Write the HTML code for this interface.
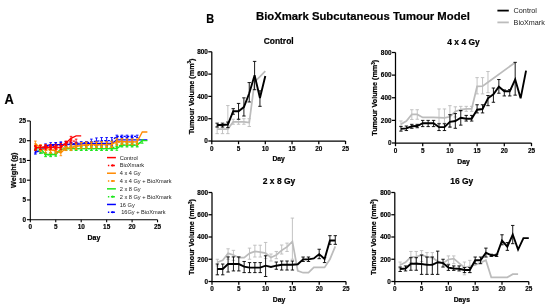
<!DOCTYPE html>
<html><head><meta charset="utf-8"><title>BioXmark Subcutaneous Tumour Model</title>
<style>html,body{margin:0;padding:0;background:#fff;width:550px;height:307px;overflow:hidden}svg{display:block}</style>
</head><body>
<svg width="550" height="307" viewBox="0 0 550 307">
<style>text{font-family:'Liberation Sans', Arial, sans-serif;fill:#000}.tk{font-weight:bold;stroke:#000;stroke-width:0.15px}.b{font-weight:bold;stroke:#000;stroke-width:0.2px}</style>
<rect width="550" height="307" fill="#fff"/>
<text transform="translate(4.5 103.6) scale(0.9 1)" class="b" font-size="14.3">A</text>
<text transform="translate(206.2 23) scale(0.85 1)" class="b" font-size="12.8">B</text>
<text x="256" y="19.7" class="b" font-size="10.9" textLength="214" lengthAdjust="spacingAndGlyphs">BioXmark Subcutaneous Tumour Model</text>
<line x1="497.4" y1="10.6" x2="508.8" y2="10.6" stroke="#000" stroke-width="1.8"/>
<line x1="497.4" y1="22.4" x2="508.8" y2="22.4" stroke="#bcbcbc" stroke-width="1.8"/>
<text x="513.6" y="12.9" font-size="7.25" style="fill:#222">Control</text>
<text x="513.6" y="24.7" font-size="7.2" style="fill:#222">BioXmark</text>
<path d="M211.8 51.8V141H345.5" fill="none" stroke="#000" stroke-width="1.25"/>
<line x1="211.8" y1="141" x2="211.8" y2="144.2" stroke="#000" stroke-width="1.25"/>
<text x="211.8" y="150.7" text-anchor="middle" class="tk" font-size="6.4">0</text>
<line x1="238.55" y1="141" x2="238.55" y2="144.2" stroke="#000" stroke-width="1.25"/>
<text x="238.55" y="150.7" text-anchor="middle" class="tk" font-size="6.4">5</text>
<line x1="265.3" y1="141" x2="265.3" y2="144.2" stroke="#000" stroke-width="1.25"/>
<text x="265.3" y="150.7" text-anchor="middle" class="tk" font-size="6.4">10</text>
<line x1="292.05" y1="141" x2="292.05" y2="144.2" stroke="#000" stroke-width="1.25"/>
<text x="292.05" y="150.7" text-anchor="middle" class="tk" font-size="6.4">15</text>
<line x1="318.8" y1="141" x2="318.8" y2="144.2" stroke="#000" stroke-width="1.25"/>
<text x="318.8" y="150.7" text-anchor="middle" class="tk" font-size="6.4">20</text>
<line x1="345.55" y1="141" x2="345.55" y2="144.2" stroke="#000" stroke-width="1.25"/>
<text x="345.55" y="150.7" text-anchor="middle" class="tk" font-size="6.4">25</text>
<line x1="208.3" y1="141" x2="211.8" y2="141" stroke="#000" stroke-width="1.25"/>
<text x="207.8" y="143.3" text-anchor="end" class="tk" font-size="6.4">0</text>
<line x1="208.3" y1="118.7" x2="211.8" y2="118.7" stroke="#000" stroke-width="1.25"/>
<text x="207.8" y="121" text-anchor="end" class="tk" font-size="6.4">200</text>
<line x1="208.3" y1="96.4" x2="211.8" y2="96.4" stroke="#000" stroke-width="1.25"/>
<text x="207.8" y="98.7" text-anchor="end" class="tk" font-size="6.4">400</text>
<line x1="208.3" y1="74.1" x2="211.8" y2="74.1" stroke="#000" stroke-width="1.25"/>
<text x="207.8" y="76.4" text-anchor="end" class="tk" font-size="6.4">600</text>
<line x1="208.3" y1="51.8" x2="211.8" y2="51.8" stroke="#000" stroke-width="1.25"/>
<text x="207.8" y="54.1" text-anchor="end" class="tk" font-size="6.4">800</text>
<text x="278.65" y="44" text-anchor="middle" class="b" font-size="8.45">Control</text>
<text x="278.65" y="161.3" text-anchor="middle" class="b" font-size="6.8">Day</text>
<text transform="translate(193.6 96.4) rotate(-90)" text-anchor="middle" class="b" font-size="7.2">Tumour Volume (mm<tspan dy="-2.2" font-size="4.6">3</tspan><tspan dy="2.2">)</tspan></text>
<path d="M395.5 52.5V143H531.5" fill="none" stroke="#000" stroke-width="1.25"/>
<line x1="395.5" y1="143" x2="395.5" y2="146.2" stroke="#000" stroke-width="1.25"/>
<text x="395.5" y="152.7" text-anchor="middle" class="tk" font-size="6.4">0</text>
<line x1="422.7" y1="143" x2="422.7" y2="146.2" stroke="#000" stroke-width="1.25"/>
<text x="422.7" y="152.7" text-anchor="middle" class="tk" font-size="6.4">5</text>
<line x1="449.9" y1="143" x2="449.9" y2="146.2" stroke="#000" stroke-width="1.25"/>
<text x="449.9" y="152.7" text-anchor="middle" class="tk" font-size="6.4">10</text>
<line x1="477.1" y1="143" x2="477.1" y2="146.2" stroke="#000" stroke-width="1.25"/>
<text x="477.1" y="152.7" text-anchor="middle" class="tk" font-size="6.4">15</text>
<line x1="504.3" y1="143" x2="504.3" y2="146.2" stroke="#000" stroke-width="1.25"/>
<text x="504.3" y="152.7" text-anchor="middle" class="tk" font-size="6.4">20</text>
<line x1="531.5" y1="143" x2="531.5" y2="146.2" stroke="#000" stroke-width="1.25"/>
<text x="531.5" y="152.7" text-anchor="middle" class="tk" font-size="6.4">25</text>
<line x1="392" y1="143" x2="395.5" y2="143" stroke="#000" stroke-width="1.25"/>
<text x="391.5" y="145.3" text-anchor="end" class="tk" font-size="6.4">0</text>
<line x1="392" y1="120.38" x2="395.5" y2="120.38" stroke="#000" stroke-width="1.25"/>
<text x="391.5" y="122.67" text-anchor="end" class="tk" font-size="6.4">200</text>
<line x1="392" y1="97.75" x2="395.5" y2="97.75" stroke="#000" stroke-width="1.25"/>
<text x="391.5" y="100.05" text-anchor="end" class="tk" font-size="6.4">400</text>
<line x1="392" y1="75.12" x2="395.5" y2="75.12" stroke="#000" stroke-width="1.25"/>
<text x="391.5" y="77.42" text-anchor="end" class="tk" font-size="6.4">600</text>
<line x1="392" y1="52.5" x2="395.5" y2="52.5" stroke="#000" stroke-width="1.25"/>
<text x="391.5" y="54.8" text-anchor="end" class="tk" font-size="6.4">800</text>
<text x="463.5" y="44.7" text-anchor="middle" class="b" font-size="8.45">4 x 4 Gy</text>
<text x="463.5" y="164" text-anchor="middle" class="b" font-size="6.8">Day</text>
<text transform="translate(376.7 97.75) rotate(-90)" text-anchor="middle" class="b" font-size="7.2">Tumour Volume (mm<tspan dy="-2.2" font-size="4.6">3</tspan><tspan dy="2.2">)</tspan></text>
<path d="M212 192.5V281.5H346" fill="none" stroke="#000" stroke-width="1.25"/>
<line x1="212" y1="281.5" x2="212" y2="284.7" stroke="#000" stroke-width="1.25"/>
<text x="212" y="291.2" text-anchor="middle" class="tk" font-size="6.4">0</text>
<line x1="238.8" y1="281.5" x2="238.8" y2="284.7" stroke="#000" stroke-width="1.25"/>
<text x="238.8" y="291.2" text-anchor="middle" class="tk" font-size="6.4">5</text>
<line x1="265.6" y1="281.5" x2="265.6" y2="284.7" stroke="#000" stroke-width="1.25"/>
<text x="265.6" y="291.2" text-anchor="middle" class="tk" font-size="6.4">10</text>
<line x1="292.4" y1="281.5" x2="292.4" y2="284.7" stroke="#000" stroke-width="1.25"/>
<text x="292.4" y="291.2" text-anchor="middle" class="tk" font-size="6.4">15</text>
<line x1="319.2" y1="281.5" x2="319.2" y2="284.7" stroke="#000" stroke-width="1.25"/>
<text x="319.2" y="291.2" text-anchor="middle" class="tk" font-size="6.4">20</text>
<line x1="346" y1="281.5" x2="346" y2="284.7" stroke="#000" stroke-width="1.25"/>
<text x="346" y="291.2" text-anchor="middle" class="tk" font-size="6.4">25</text>
<line x1="208.5" y1="281.5" x2="212" y2="281.5" stroke="#000" stroke-width="1.25"/>
<text x="208" y="283.8" text-anchor="end" class="tk" font-size="6.4">0</text>
<line x1="208.5" y1="259.25" x2="212" y2="259.25" stroke="#000" stroke-width="1.25"/>
<text x="208" y="261.55" text-anchor="end" class="tk" font-size="6.4">200</text>
<line x1="208.5" y1="237" x2="212" y2="237" stroke="#000" stroke-width="1.25"/>
<text x="208" y="239.3" text-anchor="end" class="tk" font-size="6.4">400</text>
<line x1="208.5" y1="214.75" x2="212" y2="214.75" stroke="#000" stroke-width="1.25"/>
<text x="208" y="217.05" text-anchor="end" class="tk" font-size="6.4">600</text>
<line x1="208.5" y1="192.5" x2="212" y2="192.5" stroke="#000" stroke-width="1.25"/>
<text x="208" y="194.8" text-anchor="end" class="tk" font-size="6.4">800</text>
<text x="279" y="184.2" text-anchor="middle" class="b" font-size="8.45">2 x 8 Gy</text>
<text x="279" y="302" text-anchor="middle" class="b" font-size="6.8">Day</text>
<text transform="translate(193.8 237) rotate(-90)" text-anchor="middle" class="b" font-size="7.2">Tumour Volume (mm<tspan dy="-2.2" font-size="4.6">3</tspan><tspan dy="2.2">)</tspan></text>
<path d="M394.8 192.5V281.5H528.8" fill="none" stroke="#000" stroke-width="1.25"/>
<line x1="394.8" y1="281.5" x2="394.8" y2="284.7" stroke="#000" stroke-width="1.25"/>
<text x="394.8" y="291.2" text-anchor="middle" class="tk" font-size="6.4">0</text>
<line x1="421.6" y1="281.5" x2="421.6" y2="284.7" stroke="#000" stroke-width="1.25"/>
<text x="421.6" y="291.2" text-anchor="middle" class="tk" font-size="6.4">5</text>
<line x1="448.4" y1="281.5" x2="448.4" y2="284.7" stroke="#000" stroke-width="1.25"/>
<text x="448.4" y="291.2" text-anchor="middle" class="tk" font-size="6.4">10</text>
<line x1="475.2" y1="281.5" x2="475.2" y2="284.7" stroke="#000" stroke-width="1.25"/>
<text x="475.2" y="291.2" text-anchor="middle" class="tk" font-size="6.4">15</text>
<line x1="502" y1="281.5" x2="502" y2="284.7" stroke="#000" stroke-width="1.25"/>
<text x="502" y="291.2" text-anchor="middle" class="tk" font-size="6.4">20</text>
<line x1="528.8" y1="281.5" x2="528.8" y2="284.7" stroke="#000" stroke-width="1.25"/>
<text x="528.8" y="291.2" text-anchor="middle" class="tk" font-size="6.4">25</text>
<line x1="391.3" y1="281.5" x2="394.8" y2="281.5" stroke="#000" stroke-width="1.25"/>
<text x="390.8" y="283.8" text-anchor="end" class="tk" font-size="6.4">0</text>
<line x1="391.3" y1="259.25" x2="394.8" y2="259.25" stroke="#000" stroke-width="1.25"/>
<text x="390.8" y="261.55" text-anchor="end" class="tk" font-size="6.4">200</text>
<line x1="391.3" y1="237" x2="394.8" y2="237" stroke="#000" stroke-width="1.25"/>
<text x="390.8" y="239.3" text-anchor="end" class="tk" font-size="6.4">400</text>
<line x1="391.3" y1="214.75" x2="394.8" y2="214.75" stroke="#000" stroke-width="1.25"/>
<text x="390.8" y="217.05" text-anchor="end" class="tk" font-size="6.4">600</text>
<line x1="391.3" y1="192.5" x2="394.8" y2="192.5" stroke="#000" stroke-width="1.25"/>
<text x="390.8" y="194.8" text-anchor="end" class="tk" font-size="6.4">800</text>
<text x="461.8" y="184.4" text-anchor="middle" class="b" font-size="8.45">16 Gy</text>
<text x="461.8" y="302" text-anchor="middle" class="b" font-size="6.8">Days</text>
<text transform="translate(376.3 237) rotate(-90)" text-anchor="middle" class="b" font-size="7.2">Tumour Volume (mm<tspan dy="-2.2" font-size="4.6">3</tspan><tspan dy="2.2">)</tspan></text>
<path d="M217.15 133.64V126.62M215.45 126.62H218.85M215.45 133.64H218.85" stroke="#bcbcbc" stroke-width="0.9" fill="none"/>
<path d="M222.5 133.64V126.62M220.8 126.62H224.2M220.8 133.64H224.2" stroke="#bcbcbc" stroke-width="0.9" fill="none"/>
<path d="M227.85 133.64V105.54M226.15 105.54H229.55M226.15 133.64H229.55" stroke="#bcbcbc" stroke-width="0.9" fill="none"/>
<path d="M233.2 124.28V119.26M231.5 119.26H234.9M231.5 124.28H234.9" stroke="#bcbcbc" stroke-width="0.9" fill="none"/>
<path d="M238.55 124.28V119.26M236.85 119.26H240.25M236.85 124.28H240.25" stroke="#bcbcbc" stroke-width="0.9" fill="none"/>
<path d="M243.9 124.28V118.7M242.2 118.7H245.6M242.2 124.28H245.6" stroke="#bcbcbc" stroke-width="0.9" fill="none"/>
<path d="M249.25 126.5V118.7M247.55 118.7H250.95M247.55 126.5H250.95" stroke="#bcbcbc" stroke-width="0.9" fill="none"/>
<path d="M217.15 129.07 L222.5 129.07 L227.85 129.07 L233.2 121.82 L238.55 121.82 L243.9 121.82 L249.25 122.6 L254.6 81.91 L259.95 76.55 L265.3 71.2" stroke="#bcbcbc" stroke-width="1.75" fill="none" stroke-linejoin="miter" stroke-miterlimit="3"/>
<path d="M217.15 127.06V123.16M215.45 123.16H218.85M215.45 127.06H218.85" stroke="#000" stroke-width="0.9" fill="none"/>
<path d="M222.5 127.06V123.16M220.8 123.16H224.2M220.8 127.06H224.2" stroke="#000" stroke-width="0.9" fill="none"/>
<path d="M227.85 127.62V122.05M226.15 122.05H229.55M226.15 127.62H229.55" stroke="#000" stroke-width="0.9" fill="none"/>
<path d="M233.2 114.24V108.66M231.5 108.66H234.9M231.5 114.24H234.9" stroke="#000" stroke-width="0.9" fill="none"/>
<path d="M238.55 119.26V103.42M236.85 103.42H240.25M236.85 119.26H240.25" stroke="#000" stroke-width="0.9" fill="none"/>
<path d="M243.9 116.02V97.85M242.2 97.85H245.6M242.2 116.02H245.6" stroke="#000" stroke-width="0.9" fill="none"/>
<path d="M249.25 101.97V82.57M247.55 82.57H250.95M247.55 101.97H250.95" stroke="#000" stroke-width="0.9" fill="none"/>
<path d="M254.6 89.71V61.39M252.9 61.39H256.3M252.9 89.71H256.3" stroke="#000" stroke-width="0.9" fill="none"/>
<path d="M259.95 106.32V90.82M258.25 90.82H261.65M258.25 106.32H261.65" stroke="#000" stroke-width="0.9" fill="none"/>
<path d="M217.15 125.06 L222.5 125.06 L227.85 124.5 L233.2 111.23 L238.55 111.23 L243.9 107.1 L249.25 93.28 L254.6 75.22 L259.95 98.07 L265.3 76" stroke="#000" stroke-width="1.9" fill="none" stroke-linejoin="miter" stroke-miterlimit="3"/>
<path d="M400.94 126.03V120.94M399.24 120.94H402.64M399.24 126.03H402.64" stroke="#bcbcbc" stroke-width="0.9" fill="none"/>
<path d="M411.82 119.47V109.74M410.12 109.74H413.52M410.12 119.47H413.52" stroke="#bcbcbc" stroke-width="0.9" fill="none"/>
<path d="M417.26 119.24V109.74M415.56 109.74H418.96M415.56 119.24H418.96" stroke="#bcbcbc" stroke-width="0.9" fill="none"/>
<path d="M439.02 123.2V108.95M437.32 108.95H440.72M437.32 123.2H440.72" stroke="#bcbcbc" stroke-width="0.9" fill="none"/>
<path d="M444.46 123.2V108.95M442.76 108.95H446.16M442.76 123.2H446.16" stroke="#bcbcbc" stroke-width="0.9" fill="none"/>
<path d="M449.9 126.6V105.67M448.2 105.67H451.6M448.2 126.6H451.6" stroke="#bcbcbc" stroke-width="0.9" fill="none"/>
<path d="M455.34 116.98V106.8M453.64 106.8H457.04M453.64 116.98H457.04" stroke="#bcbcbc" stroke-width="0.9" fill="none"/>
<path d="M460.78 111.33V106.35M459.08 106.35H462.48M459.08 111.33H462.48" stroke="#bcbcbc" stroke-width="0.9" fill="none"/>
<path d="M466.22 111.33V106.35M464.52 106.35H467.92M464.52 111.33H467.92" stroke="#bcbcbc" stroke-width="0.9" fill="none"/>
<path d="M471.66 111.33V106.35M469.96 106.35H473.36M469.96 111.33H473.36" stroke="#bcbcbc" stroke-width="0.9" fill="none"/>
<path d="M477.1 93.9V77.61M475.4 77.61H478.8M475.4 93.9H478.8" stroke="#bcbcbc" stroke-width="0.9" fill="none"/>
<path d="M482.54 93.9V77.61M480.84 77.61H484.24M480.84 93.9H484.24" stroke="#bcbcbc" stroke-width="0.9" fill="none"/>
<path d="M487.98 92.66V71.5M486.28 71.5H489.68M486.28 92.66H489.68" stroke="#bcbcbc" stroke-width="0.9" fill="none"/>
<path d="M400.94 124.33 L406.38 121.05 L411.82 114.49 L417.26 114.49 L422.7 117.43 L428.14 117.43 L433.58 117.43 L439.02 117.66 L444.46 117.89 L449.9 116.75 L455.34 111.55 L460.78 109.52 L466.22 108.84 L471.66 108.84 L477.1 86.44 L482.54 86.1 L487.98 82.25 L515.18 62.45" stroke="#bcbcbc" stroke-width="1.75" fill="none" stroke-linejoin="miter" stroke-miterlimit="3"/>
<path d="M400.94 131.12V126.6M399.24 126.6H402.64M399.24 131.12H402.64" stroke="#000" stroke-width="0.9" fill="none"/>
<path d="M406.38 130.56V126.03M404.68 126.03H408.08M404.68 130.56H408.08" stroke="#000" stroke-width="0.9" fill="none"/>
<path d="M411.82 128.29V124.33M410.12 124.33H413.52M410.12 128.29H413.52" stroke="#000" stroke-width="0.9" fill="none"/>
<path d="M417.26 127.73V124.33M415.56 124.33H418.96M415.56 127.73H418.96" stroke="#000" stroke-width="0.9" fill="none"/>
<path d="M422.7 126.6V120.38M421 120.38H424.4M421 126.6H424.4" stroke="#000" stroke-width="0.9" fill="none"/>
<path d="M428.14 126.6V120.38M426.44 120.38H429.84M426.44 126.6H429.84" stroke="#000" stroke-width="0.9" fill="none"/>
<path d="M433.58 126.6V120.38M431.88 120.38H435.28M431.88 126.6H435.28" stroke="#000" stroke-width="0.9" fill="none"/>
<path d="M439.02 130.56V123.77M437.32 123.77H440.72M437.32 130.56H440.72" stroke="#000" stroke-width="0.9" fill="none"/>
<path d="M444.46 130.56V123.77M442.76 123.77H446.16M442.76 130.56H446.16" stroke="#000" stroke-width="0.9" fill="none"/>
<path d="M449.9 127.16V114.72M448.2 114.72H451.6M448.2 127.16H451.6" stroke="#000" stroke-width="0.9" fill="none"/>
<path d="M455.34 128.29V113.59M453.64 113.59H457.04M453.64 128.29H457.04" stroke="#000" stroke-width="0.9" fill="none"/>
<path d="M460.78 125.13V110.53M459.08 110.53H462.48M459.08 125.13H462.48" stroke="#000" stroke-width="0.9" fill="none"/>
<path d="M466.22 121.05V115.4M464.52 115.4H467.92M464.52 121.05H467.92" stroke="#000" stroke-width="0.9" fill="none"/>
<path d="M471.66 121.05V115.4M469.96 115.4H473.36M469.96 121.05H473.36" stroke="#000" stroke-width="0.9" fill="none"/>
<path d="M477.1 112.91V104.76M475.4 104.76H478.8M475.4 112.91H478.8" stroke="#000" stroke-width="0.9" fill="none"/>
<path d="M482.54 112.91V104.76M480.84 104.76H484.24M480.84 112.91H484.24" stroke="#000" stroke-width="0.9" fill="none"/>
<path d="M487.98 105.67V95.49M486.28 95.49H489.68M486.28 105.67H489.68" stroke="#000" stroke-width="0.9" fill="none"/>
<path d="M493.42 102.28V88.02M491.72 88.02H495.12M491.72 102.28H495.12" stroke="#000" stroke-width="0.9" fill="none"/>
<path d="M498.86 93.22V79.54M497.16 79.54H500.56M497.16 93.22H500.56" stroke="#000" stroke-width="0.9" fill="none"/>
<path d="M504.3 95.94V89.94M502.6 89.94H506M502.6 95.94H506" stroke="#000" stroke-width="0.9" fill="none"/>
<path d="M509.74 95.94V89.6M508.04 89.6H511.44M508.04 95.94H511.44" stroke="#000" stroke-width="0.9" fill="none"/>
<path d="M515.18 95.15V62.34M513.48 62.34H516.88M513.48 95.15H516.88" stroke="#000" stroke-width="0.9" fill="none"/>
<path d="M400.94 128.86 L406.38 128.41 L411.82 126.26 L417.26 126.03 L422.7 123.2 L428.14 123.2 L433.58 123.2 L439.02 127.16 L444.46 127.16 L449.9 121.85 L455.34 121.05 L460.78 117.77 L466.22 118.79 L471.66 118.79 L477.1 109.74 L482.54 109.06 L487.98 98.32 L493.42 94.36 L498.86 86.66 L504.3 91.3 L509.74 91.3 L515.18 79.54 L520.62 98.32 L526.06 70.6" stroke="#000" stroke-width="1.9" fill="none" stroke-linejoin="miter" stroke-miterlimit="3"/>
<path d="M217.36 265.93V259.25M215.66 259.25H219.06M215.66 265.93H219.06" stroke="#bcbcbc" stroke-width="0.9" fill="none"/>
<path d="M228.08 259.25V248.79M226.38 248.79H229.78M226.38 259.25H229.78" stroke="#bcbcbc" stroke-width="0.9" fill="none"/>
<path d="M233.44 260.36V250.35M231.74 250.35H235.14M231.74 260.36H235.14" stroke="#bcbcbc" stroke-width="0.9" fill="none"/>
<path d="M249.52 259.25V248.12M247.82 248.12H251.22M247.82 259.25H251.22" stroke="#bcbcbc" stroke-width="0.9" fill="none"/>
<path d="M254.88 257.02V245.23M253.18 245.23H256.58M253.18 257.02H256.58" stroke="#bcbcbc" stroke-width="0.9" fill="none"/>
<path d="M260.24 257.02V245.23M258.54 245.23H261.94M258.54 257.02H261.94" stroke="#bcbcbc" stroke-width="0.9" fill="none"/>
<path d="M265.6 258.47V242.45M263.9 242.45H267.3M263.9 258.47H267.3" stroke="#bcbcbc" stroke-width="0.9" fill="none"/>
<path d="M270.96 261.03V254.02M269.26 254.02H272.66M269.26 261.03H272.66" stroke="#bcbcbc" stroke-width="0.9" fill="none"/>
<path d="M276.32 258.69V251.46M274.62 251.46H278.02M274.62 258.69H278.02" stroke="#bcbcbc" stroke-width="0.9" fill="none"/>
<path d="M281.68 254.02V245.01M279.98 245.01H283.38M279.98 254.02H283.38" stroke="#bcbcbc" stroke-width="0.9" fill="none"/>
<path d="M287.04 251.46V243.12M285.34 243.12H288.74M285.34 251.46H288.74" stroke="#bcbcbc" stroke-width="0.9" fill="none"/>
<path d="M292.4 259.25V218.09M290.7 218.09H294.1M290.7 259.25H294.1" stroke="#bcbcbc" stroke-width="0.9" fill="none"/>
<path d="M217.36 262.25 L222.72 260.36 L228.08 253.35 L233.44 255.02 L238.8 257.69 L244.16 257.69 L249.52 253.35 L254.88 251.46 L260.24 252.02 L265.6 253.13 L270.96 257.58 L276.32 255.02 L281.68 250.35 L287.04 246.9 L292.4 241.45 L297.76 270.82 L303.12 272.71 L308.48 272.71 L313.84 267.48 L319.2 267.48 L324.56 267.48 L329.92 259.25 L335.28 246.34" stroke="#bcbcbc" stroke-width="1.75" fill="none" stroke-linejoin="miter" stroke-miterlimit="3"/>
<path d="M217.36 274.82V264.03M215.66 264.03H219.06M215.66 274.82H219.06" stroke="#000" stroke-width="0.9" fill="none"/>
<path d="M222.72 274.82V264.03M221.02 264.03H224.42M221.02 274.82H224.42" stroke="#000" stroke-width="0.9" fill="none"/>
<path d="M228.08 272.04V256.91M226.38 256.91H229.78M226.38 272.04H229.78" stroke="#000" stroke-width="0.9" fill="none"/>
<path d="M233.44 270.93V256.91M231.74 256.91H235.14M231.74 270.93H235.14" stroke="#000" stroke-width="0.9" fill="none"/>
<path d="M238.8 270.93V256.91M237.1 256.91H240.5M237.1 270.93H240.5" stroke="#000" stroke-width="0.9" fill="none"/>
<path d="M244.16 272.6V261.48M242.46 261.48H245.86M242.46 272.6H245.86" stroke="#000" stroke-width="0.9" fill="none"/>
<path d="M249.52 272.6V262.59M247.82 262.59H251.22M247.82 272.6H251.22" stroke="#000" stroke-width="0.9" fill="none"/>
<path d="M254.88 272.6V262.59M253.18 262.59H256.58M253.18 272.6H256.58" stroke="#000" stroke-width="0.9" fill="none"/>
<path d="M260.24 272.6V262.59M258.54 262.59H261.94M258.54 272.6H261.94" stroke="#000" stroke-width="0.9" fill="none"/>
<path d="M265.6 276.49V255.8M263.9 255.8H267.3M263.9 276.49H267.3" stroke="#000" stroke-width="0.9" fill="none"/>
<path d="M276.32 269.26V262.03M274.62 262.03H278.02M274.62 269.26H278.02" stroke="#000" stroke-width="0.9" fill="none"/>
<path d="M281.68 270.04V261.03M279.98 261.03H283.38M279.98 270.04H283.38" stroke="#000" stroke-width="0.9" fill="none"/>
<path d="M287.04 270.04V261.03M285.34 261.03H288.74M285.34 270.04H288.74" stroke="#000" stroke-width="0.9" fill="none"/>
<path d="M292.4 270.04V261.03M290.7 261.03H294.1M290.7 270.04H294.1" stroke="#000" stroke-width="0.9" fill="none"/>
<path d="M303.12 261.48V257.02M301.42 257.02H304.82M301.42 261.48H304.82" stroke="#000" stroke-width="0.9" fill="none"/>
<path d="M308.48 261.48V257.02M306.78 257.02H310.18M306.78 261.48H310.18" stroke="#000" stroke-width="0.9" fill="none"/>
<path d="M319.2 258.69V249.24M317.5 249.24H320.9M317.5 258.69H320.9" stroke="#000" stroke-width="0.9" fill="none"/>
<path d="M324.56 262.59V257.58M322.86 257.58H326.26M322.86 262.59H326.26" stroke="#000" stroke-width="0.9" fill="none"/>
<path d="M329.92 244.34V235.66M328.22 235.66H331.62M328.22 244.34H331.62" stroke="#000" stroke-width="0.9" fill="none"/>
<path d="M335.28 244.34V235.66M333.58 235.66H336.98M333.58 244.34H336.98" stroke="#000" stroke-width="0.9" fill="none"/>
<path d="M217.36 269.04 L222.72 269.04 L228.08 264.03 L233.44 264.03 L238.8 264.03 L244.16 266.7 L249.52 267.59 L254.88 267.59 L260.24 267.59 L265.6 265.7 L270.96 267.04 L276.32 265.7 L281.68 264.81 L287.04 264.81 L292.4 264.81 L297.76 264.26 L303.12 259.36 L308.48 259.36 L313.84 258.47 L319.2 254.13 L324.56 259.03 L329.92 240.56 L335.28 240.56" stroke="#000" stroke-width="1.9" fill="none" stroke-linejoin="miter" stroke-miterlimit="3"/>
<path d="M400.16 268.15V262.03M398.46 262.03H401.86M398.46 268.15H401.86" stroke="#bcbcbc" stroke-width="0.9" fill="none"/>
<path d="M410.88 262.59V251.46M409.18 251.46H412.58M409.18 262.59H412.58" stroke="#bcbcbc" stroke-width="0.9" fill="none"/>
<path d="M416.24 262.59V251.46M414.54 251.46H417.94M414.54 262.59H417.94" stroke="#bcbcbc" stroke-width="0.9" fill="none"/>
<path d="M421.6 261.48V250.57M419.9 250.57H423.3M419.9 261.48H423.3" stroke="#bcbcbc" stroke-width="0.9" fill="none"/>
<path d="M426.96 263.7V252.57M425.26 252.57H428.66M425.26 263.7H428.66" stroke="#bcbcbc" stroke-width="0.9" fill="none"/>
<path d="M432.32 263.7V252.57M430.62 252.57H434.02M430.62 263.7H434.02" stroke="#bcbcbc" stroke-width="0.9" fill="none"/>
<path d="M448.4 263.7V255.91M446.7 255.91H450.1M446.7 263.7H450.1" stroke="#bcbcbc" stroke-width="0.9" fill="none"/>
<path d="M453.76 263.7V255.91M452.06 255.91H455.46M452.06 263.7H455.46" stroke="#bcbcbc" stroke-width="0.9" fill="none"/>
<path d="M464.48 274.82V262.03M462.78 262.03H466.18M462.78 274.82H466.18" stroke="#bcbcbc" stroke-width="0.9" fill="none"/>
<path d="M469.84 272.6V260.36M468.14 260.36H471.54M468.14 272.6H471.54" stroke="#bcbcbc" stroke-width="0.9" fill="none"/>
<path d="M400.16 264.92 L405.52 262.25 L410.88 256.91 L416.24 256.91 L421.6 255.02 L426.96 256.91 L432.32 257.69 L437.68 261.25 L443.04 263.14 L448.4 259.47 L453.76 258.58 L459.12 263.14 L464.48 267.48 L469.84 266.26 L475.2 265.04 L480.56 262.59 L485.92 260.25 L491.28 277.27 L496.64 277.27 L502 277.27 L507.36 277.27 L512.72 274.16 L518.08 274.16" stroke="#bcbcbc" stroke-width="1.75" fill="none" stroke-linejoin="miter" stroke-miterlimit="3"/>
<path d="M400.16 271.49V267.04M398.46 267.04H401.86M398.46 271.49H401.86" stroke="#000" stroke-width="0.9" fill="none"/>
<path d="M405.52 270.93V265.93M403.82 265.93H407.22M403.82 270.93H407.22" stroke="#000" stroke-width="0.9" fill="none"/>
<path d="M410.88 270.26V257.69M409.18 257.69H412.58M409.18 270.26H412.58" stroke="#000" stroke-width="0.9" fill="none"/>
<path d="M416.24 270.26V257.69M414.54 257.69H417.94M414.54 270.26H417.94" stroke="#000" stroke-width="0.9" fill="none"/>
<path d="M421.6 274.38V255.02M419.9 255.02H423.3M419.9 274.38H423.3" stroke="#000" stroke-width="0.9" fill="none"/>
<path d="M426.96 274.38V257.02M425.26 257.02H428.66M425.26 274.38H428.66" stroke="#000" stroke-width="0.9" fill="none"/>
<path d="M432.32 274.38V257.02M430.62 257.02H434.02M430.62 274.38H434.02" stroke="#000" stroke-width="0.9" fill="none"/>
<path d="M437.68 274.38V251.13M435.98 251.13H439.38M435.98 274.38H439.38" stroke="#000" stroke-width="0.9" fill="none"/>
<path d="M443.04 267.04V259.25M441.34 259.25H444.74M441.34 267.04H444.74" stroke="#000" stroke-width="0.9" fill="none"/>
<path d="M448.4 270.38V264.81M446.7 264.81H450.1M446.7 270.38H450.1" stroke="#000" stroke-width="0.9" fill="none"/>
<path d="M453.76 270.38V265.93M452.06 265.93H455.46M452.06 270.38H455.46" stroke="#000" stroke-width="0.9" fill="none"/>
<path d="M459.12 270.93V265.93M457.42 265.93H460.82M457.42 270.93H460.82" stroke="#000" stroke-width="0.9" fill="none"/>
<path d="M464.48 272.6V267.59M462.78 267.59H466.18M462.78 272.6H466.18" stroke="#000" stroke-width="0.9" fill="none"/>
<path d="M469.84 272.6V267.59M468.14 267.59H471.54M468.14 272.6H471.54" stroke="#000" stroke-width="0.9" fill="none"/>
<path d="M475.2 263.7V257.02M473.5 257.02H476.9M473.5 263.7H476.9" stroke="#000" stroke-width="0.9" fill="none"/>
<path d="M480.56 263.7V257.02M478.86 257.02H482.26M478.86 263.7H482.26" stroke="#000" stroke-width="0.9" fill="none"/>
<path d="M485.92 257.02V248.12M484.22 248.12H487.62M484.22 257.02H487.62" stroke="#000" stroke-width="0.9" fill="none"/>
<path d="M491.28 256.47V254.24M489.58 254.24H492.98M489.58 256.47H492.98" stroke="#000" stroke-width="0.9" fill="none"/>
<path d="M496.64 256.47V254.24M494.94 254.24H498.34M494.94 256.47H498.34" stroke="#000" stroke-width="0.9" fill="none"/>
<path d="M502 244.79V234.78M500.3 234.78H503.7M500.3 244.79H503.7" stroke="#000" stroke-width="0.9" fill="none"/>
<path d="M507.36 250.35V242.56M505.66 242.56H509.06M505.66 250.35H509.06" stroke="#000" stroke-width="0.9" fill="none"/>
<path d="M512.72 243.68V225.43M511.02 225.43H514.42M511.02 243.68H514.42" stroke="#000" stroke-width="0.9" fill="none"/>
<path d="M400.16 269.04 L405.52 268.48 L410.88 263.7 L416.24 263.7 L421.6 264.03 L426.96 264.92 L432.32 264.92 L437.68 262.25 L443.04 263.14 L448.4 267.59 L453.76 268.48 L459.12 268.71 L464.48 269.93 L469.84 269.93 L475.2 260.25 L480.56 260.25 L485.92 252.8 L491.28 255.25 L496.64 255.25 L502 240.56 L507.36 246.68 L512.72 234.55 L518.08 249.57 L523.44 238.11 L528.8 238.11" stroke="#000" stroke-width="1.9" fill="none" stroke-linejoin="miter" stroke-miterlimit="3"/>
<path d="M30.3 120.95V219.7H157.5" fill="none" stroke="#000" stroke-width="1.1"/>
<line x1="30.3" y1="219.7" x2="30.3" y2="222.3" stroke="#000" stroke-width="1.1"/>
<text x="30.3" y="229.1" text-anchor="middle" class="tk" font-size="6.4">0</text>
<line x1="55.75" y1="219.7" x2="55.75" y2="222.3" stroke="#000" stroke-width="1.1"/>
<text x="55.75" y="229.1" text-anchor="middle" class="tk" font-size="6.4">5</text>
<line x1="81.2" y1="219.7" x2="81.2" y2="222.3" stroke="#000" stroke-width="1.1"/>
<text x="81.2" y="229.1" text-anchor="middle" class="tk" font-size="6.4">10</text>
<line x1="106.65" y1="219.7" x2="106.65" y2="222.3" stroke="#000" stroke-width="1.1"/>
<text x="106.65" y="229.1" text-anchor="middle" class="tk" font-size="6.4">15</text>
<line x1="132.1" y1="219.7" x2="132.1" y2="222.3" stroke="#000" stroke-width="1.1"/>
<text x="132.1" y="229.1" text-anchor="middle" class="tk" font-size="6.4">20</text>
<line x1="157.55" y1="219.7" x2="157.55" y2="222.3" stroke="#000" stroke-width="1.1"/>
<text x="157.55" y="229.1" text-anchor="middle" class="tk" font-size="6.4">25</text>
<line x1="26.9" y1="219.7" x2="30.3" y2="219.7" stroke="#000" stroke-width="1.1"/>
<text x="26" y="222" text-anchor="end" class="tk" font-size="6.4">0</text>
<line x1="26.9" y1="199.95" x2="30.3" y2="199.95" stroke="#000" stroke-width="1.1"/>
<text x="26" y="202.25" text-anchor="end" class="tk" font-size="6.4">5</text>
<line x1="26.9" y1="180.2" x2="30.3" y2="180.2" stroke="#000" stroke-width="1.1"/>
<text x="26" y="182.5" text-anchor="end" class="tk" font-size="6.4">10</text>
<line x1="26.9" y1="160.45" x2="30.3" y2="160.45" stroke="#000" stroke-width="1.1"/>
<text x="26" y="162.75" text-anchor="end" class="tk" font-size="6.4">15</text>
<line x1="26.9" y1="140.7" x2="30.3" y2="140.7" stroke="#000" stroke-width="1.1"/>
<text x="26" y="143" text-anchor="end" class="tk" font-size="6.4">20</text>
<line x1="26.9" y1="120.95" x2="30.3" y2="120.95" stroke="#000" stroke-width="1.1"/>
<text x="26" y="123.25" text-anchor="end" class="tk" font-size="6.4">25</text>
<text x="93.9" y="239.5" text-anchor="middle" class="b" font-size="7">Day</text>
<text transform="translate(15.9 170.3) rotate(-90)" text-anchor="middle" class="b" font-size="7.3">Weight (g)</text>
<path d="M35.39 152.94V149M34.09 149H36.69M34.09 152.94H36.69" stroke="#0000ff" stroke-width="0.9" fill="none"/>
<path d="M40.48 150.57V148.2M39.18 148.2H41.78M39.18 150.57H41.78" stroke="#0000ff" stroke-width="0.9" fill="none"/>
<path d="M45.57 148.2V145.83M44.27 145.83H46.87M44.27 148.2H46.87" stroke="#0000ff" stroke-width="0.9" fill="none"/>
<path d="M50.66 147.02V144.65M49.36 144.65H51.96M49.36 147.02H51.96" stroke="#0000ff" stroke-width="0.9" fill="none"/>
<path d="M55.75 148.2V142.67M54.45 142.67H57.05M54.45 148.2H57.05" stroke="#0000ff" stroke-width="0.9" fill="none"/>
<path d="M60.84 147.41V141.88M59.54 141.88H62.14M59.54 147.41H62.14" stroke="#0000ff" stroke-width="0.9" fill="none"/>
<path d="M65.93 147.02V141.49M64.63 141.49H67.23M64.63 147.02H67.23" stroke="#0000ff" stroke-width="0.9" fill="none"/>
<path d="M71.02 145.04V142.67M69.72 142.67H72.32M69.72 145.04H72.32" stroke="#0000ff" stroke-width="0.9" fill="none"/>
<path d="M76.11 144.65V142.28M74.81 142.28H77.41M74.81 144.65H77.41" stroke="#0000ff" stroke-width="0.9" fill="none"/>
<path d="M81.2 144.25V141.88M79.9 141.88H82.5M79.9 144.25H82.5" stroke="#0000ff" stroke-width="0.9" fill="none"/>
<path d="M86.29 143.86V141.49M84.99 141.49H87.59M84.99 143.86H87.59" stroke="#0000ff" stroke-width="0.9" fill="none"/>
<path d="M91.38 145.44V139.12M90.08 139.12H92.68M90.08 145.44H92.68" stroke="#0000ff" stroke-width="0.9" fill="none"/>
<path d="M96.47 144.25V137.94M95.17 137.94H97.77M95.17 144.25H97.77" stroke="#0000ff" stroke-width="0.9" fill="none"/>
<path d="M101.56 143.86V137.54M100.26 137.54H102.86M100.26 143.86H102.86" stroke="#0000ff" stroke-width="0.9" fill="none"/>
<path d="M106.65 143.86V137.54M105.35 137.54H107.95M105.35 143.86H107.95" stroke="#0000ff" stroke-width="0.9" fill="none"/>
<path d="M111.74 143.86V137.54M110.44 137.54H113.04M110.44 143.86H113.04" stroke="#0000ff" stroke-width="0.9" fill="none"/>
<path d="M116.83 137.54V135.17M115.53 135.17H118.13M115.53 137.54H118.13" stroke="#0000ff" stroke-width="0.9" fill="none"/>
<path d="M121.92 137.54V135.17M120.62 135.17H123.22M120.62 137.54H123.22" stroke="#0000ff" stroke-width="0.9" fill="none"/>
<path d="M127.01 137.54V135.17M125.71 135.17H128.31M125.71 137.54H128.31" stroke="#0000ff" stroke-width="0.9" fill="none"/>
<path d="M132.1 137.54V135.17M130.8 135.17H133.4M130.8 137.54H133.4" stroke="#0000ff" stroke-width="0.9" fill="none"/>
<path d="M137.19 137.54V135.17M135.89 135.17H138.49M135.89 137.54H138.49" stroke="#0000ff" stroke-width="0.9" fill="none"/>
<path d="M35.39 150.97 L40.48 149.39 L45.57 147.02 L50.66 145.83 L55.75 145.44 L60.84 144.65 L65.93 144.25 L71.02 143.86 L76.11 143.46 L81.2 143.07 L86.29 142.67 L91.38 142.28 L96.47 141.09 L101.56 140.7 L106.65 140.7 L111.74 140.7 L116.83 136.35 L121.92 136.35 L127.01 136.35 L132.1 136.35 L137.19 136.35" stroke="#0000ff" stroke-width="1.3" fill="none" stroke-linejoin="miter" stroke-miterlimit="3" stroke-dasharray="2.2 1.3"/>
<path d="M35.39 154.13V150.18M34.09 150.18H36.69M34.09 154.13H36.69" stroke="#0000ff" stroke-width="0.9" fill="none"/>
<path d="M40.48 152.94V149M39.18 149H41.78M39.18 152.94H41.78" stroke="#0000ff" stroke-width="0.9" fill="none"/>
<path d="M45.57 147.81V143.86M44.27 143.86H46.87M44.27 147.81H46.87" stroke="#0000ff" stroke-width="0.9" fill="none"/>
<path d="M50.66 146.62V142.67M49.36 142.67H51.96M49.36 146.62H51.96" stroke="#0000ff" stroke-width="0.9" fill="none"/>
<path d="M55.75 146.62V142.67M54.45 142.67H57.05M54.45 146.62H57.05" stroke="#0000ff" stroke-width="0.9" fill="none"/>
<path d="M60.84 146.62V142.67M59.54 142.67H62.14M59.54 146.62H62.14" stroke="#0000ff" stroke-width="0.9" fill="none"/>
<path d="M65.93 146.62V142.67M64.63 142.67H67.23M64.63 146.62H67.23" stroke="#0000ff" stroke-width="0.9" fill="none"/>
<path d="M71.02 146.23V142.28M69.72 142.28H72.32M69.72 146.23H72.32" stroke="#0000ff" stroke-width="0.9" fill="none"/>
<path d="M76.11 146.23V142.28M74.81 142.28H77.41M74.81 146.23H77.41" stroke="#0000ff" stroke-width="0.9" fill="none"/>
<path d="M81.2 145.83V141.88M79.9 141.88H82.5M79.9 145.83H82.5" stroke="#0000ff" stroke-width="0.9" fill="none"/>
<path d="M86.29 145.44V141.49M84.99 141.49H87.59M84.99 145.44H87.59" stroke="#0000ff" stroke-width="0.9" fill="none"/>
<path d="M91.38 145.44V141.49M90.08 141.49H92.68M90.08 145.44H92.68" stroke="#0000ff" stroke-width="0.9" fill="none"/>
<path d="M96.47 145.44V141.49M95.17 141.49H97.77M95.17 145.44H97.77" stroke="#0000ff" stroke-width="0.9" fill="none"/>
<path d="M101.56 145.44V141.49M100.26 141.49H102.86M100.26 145.44H102.86" stroke="#0000ff" stroke-width="0.9" fill="none"/>
<path d="M106.65 145.44V141.49M105.35 141.49H107.95M105.35 145.44H107.95" stroke="#0000ff" stroke-width="0.9" fill="none"/>
<path d="M111.74 145.44V141.49M110.44 141.49H113.04M110.44 145.44H113.04" stroke="#0000ff" stroke-width="0.9" fill="none"/>
<path d="M116.83 141.88V137.94M115.53 137.94H118.13M115.53 141.88H118.13" stroke="#0000ff" stroke-width="0.9" fill="none"/>
<path d="M121.92 141.88V137.94M120.62 137.94H123.22M120.62 141.88H123.22" stroke="#0000ff" stroke-width="0.9" fill="none"/>
<path d="M127.01 141.88V137.94M125.71 137.94H128.31M125.71 141.88H128.31" stroke="#0000ff" stroke-width="0.9" fill="none"/>
<path d="M132.1 141.88V137.94M130.8 137.94H133.4M130.8 141.88H133.4" stroke="#0000ff" stroke-width="0.9" fill="none"/>
<path d="M35.39 152.15 L40.48 150.97 L45.57 145.83 L50.66 144.65 L55.75 144.65 L60.84 144.65 L65.93 144.65 L71.02 144.25 L76.11 144.25 L81.2 143.86 L86.29 143.46 L91.38 143.46 L96.47 143.46 L101.56 143.46 L106.65 143.46 L111.74 143.46 L116.83 139.91 L121.92 139.91 L127.01 139.91 L132.1 139.91 L137.19 139.91 L142.28 139.91 L147.37 139.91" stroke="#0000ff" stroke-width="1.3" fill="none" stroke-linejoin="miter" stroke-miterlimit="3"/>
<path d="M35.39 150.38V146.82M34.09 146.82H36.69M34.09 150.38H36.69" stroke="#1ee61e" stroke-width="0.9" fill="none"/>
<path d="M40.48 153.54V149.98M39.18 149.98H41.78M39.18 153.54H41.78" stroke="#1ee61e" stroke-width="0.9" fill="none"/>
<path d="M45.57 156.7V153.14M44.27 153.14H46.87M44.27 156.7H46.87" stroke="#1ee61e" stroke-width="0.9" fill="none"/>
<path d="M50.66 156.7V153.14M49.36 153.14H51.96M49.36 156.7H51.96" stroke="#1ee61e" stroke-width="0.9" fill="none"/>
<path d="M55.75 155.12V151.56M54.45 151.56H57.05M54.45 155.12H57.05" stroke="#1ee61e" stroke-width="0.9" fill="none"/>
<path d="M60.84 151.17V147.61M59.54 147.61H62.14M59.54 151.17H62.14" stroke="#1ee61e" stroke-width="0.9" fill="none"/>
<path d="M65.93 150.38V146.82M64.63 146.82H67.23M64.63 150.38H67.23" stroke="#1ee61e" stroke-width="0.9" fill="none"/>
<path d="M71.02 150.38V146.82M69.72 146.82H72.32M69.72 150.38H72.32" stroke="#1ee61e" stroke-width="0.9" fill="none"/>
<path d="M76.11 150.38V146.82M74.81 146.82H77.41M74.81 150.38H77.41" stroke="#1ee61e" stroke-width="0.9" fill="none"/>
<path d="M81.2 150.38V146.82M79.9 146.82H82.5M79.9 150.38H82.5" stroke="#1ee61e" stroke-width="0.9" fill="none"/>
<path d="M86.29 150.38V146.82M84.99 146.82H87.59M84.99 150.38H87.59" stroke="#1ee61e" stroke-width="0.9" fill="none"/>
<path d="M91.38 150.38V146.82M90.08 146.82H92.68M90.08 150.38H92.68" stroke="#1ee61e" stroke-width="0.9" fill="none"/>
<path d="M96.47 150.38V146.82M95.17 146.82H97.77M95.17 150.38H97.77" stroke="#1ee61e" stroke-width="0.9" fill="none"/>
<path d="M101.56 150.38V146.82M100.26 146.82H102.86M100.26 150.38H102.86" stroke="#1ee61e" stroke-width="0.9" fill="none"/>
<path d="M106.65 150.38V146.82M105.35 146.82H107.95M105.35 150.38H107.95" stroke="#1ee61e" stroke-width="0.9" fill="none"/>
<path d="M111.74 149.98V146.43M110.44 146.43H113.04M110.44 149.98H113.04" stroke="#1ee61e" stroke-width="0.9" fill="none"/>
<path d="M116.83 148.01V144.45M115.53 144.45H118.13M115.53 148.01H118.13" stroke="#1ee61e" stroke-width="0.9" fill="none"/>
<path d="M121.92 146.82V143.27M120.62 143.27H123.22M120.62 146.82H123.22" stroke="#1ee61e" stroke-width="0.9" fill="none"/>
<path d="M127.01 146.82V143.27M125.71 143.27H128.31M125.71 146.82H128.31" stroke="#1ee61e" stroke-width="0.9" fill="none"/>
<path d="M132.1 146.82V143.27M130.8 143.27H133.4M130.8 146.82H133.4" stroke="#1ee61e" stroke-width="0.9" fill="none"/>
<path d="M137.19 146.82V143.27M135.89 143.27H138.49M135.89 146.82H138.49" stroke="#1ee61e" stroke-width="0.9" fill="none"/>
<path d="M142.28 143.27V139.71M140.98 139.71H143.58M140.98 143.27H143.58" stroke="#1ee61e" stroke-width="0.9" fill="none"/>
<path d="M35.39 148.6 L40.48 151.76 L45.57 154.92 L50.66 154.92 L55.75 153.34 L60.84 149.39 L65.93 148.6 L71.02 148.6 L76.11 148.6 L81.2 148.6 L86.29 148.6 L91.38 148.6 L96.47 148.6 L101.56 148.6 L106.65 148.6 L111.74 148.2 L116.83 146.23 L121.92 145.04 L127.01 145.04 L132.1 145.04 L137.19 145.04 L142.28 141.49" stroke="#1ee61e" stroke-width="1.3" fill="none" stroke-linejoin="miter" stroke-miterlimit="3" stroke-dasharray="2.2 1.3"/>
<path d="M35.39 149.19V145.64M34.09 145.64H36.69M34.09 149.19H36.69" stroke="#1ee61e" stroke-width="0.9" fill="none"/>
<path d="M40.48 150.38V146.82M39.18 146.82H41.78M39.18 150.38H41.78" stroke="#1ee61e" stroke-width="0.9" fill="none"/>
<path d="M45.57 156.3V152.75M44.27 152.75H46.87M44.27 156.3H46.87" stroke="#1ee61e" stroke-width="0.9" fill="none"/>
<path d="M50.66 156.3V152.75M49.36 152.75H51.96M49.36 156.3H51.96" stroke="#1ee61e" stroke-width="0.9" fill="none"/>
<path d="M55.75 156.3V152.75M54.45 152.75H57.05M54.45 156.3H57.05" stroke="#1ee61e" stroke-width="0.9" fill="none"/>
<path d="M60.84 151.17V147.61M59.54 147.61H62.14M59.54 151.17H62.14" stroke="#1ee61e" stroke-width="0.9" fill="none"/>
<path d="M65.93 150.38V146.82M64.63 146.82H67.23M64.63 150.38H67.23" stroke="#1ee61e" stroke-width="0.9" fill="none"/>
<path d="M71.02 150.38V146.82M69.72 146.82H72.32M69.72 150.38H72.32" stroke="#1ee61e" stroke-width="0.9" fill="none"/>
<path d="M76.11 150.38V146.82M74.81 146.82H77.41M74.81 150.38H77.41" stroke="#1ee61e" stroke-width="0.9" fill="none"/>
<path d="M81.2 150.38V146.82M79.9 146.82H82.5M79.9 150.38H82.5" stroke="#1ee61e" stroke-width="0.9" fill="none"/>
<path d="M86.29 150.38V146.82M84.99 146.82H87.59M84.99 150.38H87.59" stroke="#1ee61e" stroke-width="0.9" fill="none"/>
<path d="M91.38 150.38V146.82M90.08 146.82H92.68M90.08 150.38H92.68" stroke="#1ee61e" stroke-width="0.9" fill="none"/>
<path d="M96.47 150.38V146.82M95.17 146.82H97.77M95.17 150.38H97.77" stroke="#1ee61e" stroke-width="0.9" fill="none"/>
<path d="M101.56 150.38V146.82M100.26 146.82H102.86M100.26 150.38H102.86" stroke="#1ee61e" stroke-width="0.9" fill="none"/>
<path d="M106.65 150.38V146.82M105.35 146.82H107.95M105.35 150.38H107.95" stroke="#1ee61e" stroke-width="0.9" fill="none"/>
<path d="M111.74 150.38V146.82M110.44 146.82H113.04M110.44 150.38H113.04" stroke="#1ee61e" stroke-width="0.9" fill="none"/>
<path d="M116.83 150.38V146.82M115.53 146.82H118.13M115.53 150.38H118.13" stroke="#1ee61e" stroke-width="0.9" fill="none"/>
<path d="M121.92 146.82V143.27M120.62 143.27H123.22M120.62 146.82H123.22" stroke="#1ee61e" stroke-width="0.9" fill="none"/>
<path d="M127.01 146.82V143.27M125.71 143.27H128.31M125.71 146.82H128.31" stroke="#1ee61e" stroke-width="0.9" fill="none"/>
<path d="M132.1 146.82V143.27M130.8 143.27H133.4M130.8 146.82H133.4" stroke="#1ee61e" stroke-width="0.9" fill="none"/>
<path d="M137.19 146.82V143.27M135.89 143.27H138.49M135.89 146.82H138.49" stroke="#1ee61e" stroke-width="0.9" fill="none"/>
<path d="M35.39 147.41 L40.48 148.6 L45.57 154.52 L50.66 154.52 L55.75 154.52 L60.84 149.39 L65.93 148.6 L71.02 148.6 L76.11 148.6 L81.2 148.6 L86.29 148.6 L91.38 148.6 L96.47 148.6 L101.56 148.6 L106.65 148.6 L111.74 148.6 L116.83 148.6 L121.92 145.04 L127.01 145.04 L132.1 145.04 L137.19 145.04 L142.28 140.7 L147.37 140.7" stroke="#1ee61e" stroke-width="1.3" fill="none" stroke-linejoin="miter" stroke-miterlimit="3"/>
<path d="M35.39 149.39V143.86M34.09 143.86H36.69M34.09 149.39H36.69" stroke="#ff8a00" stroke-width="0.9" fill="none"/>
<path d="M40.48 151.36V145.83M39.18 145.83H41.78M39.18 151.36H41.78" stroke="#ff8a00" stroke-width="0.9" fill="none"/>
<path d="M45.57 152.94V147.41M44.27 147.41H46.87M44.27 152.94H46.87" stroke="#ff8a00" stroke-width="0.9" fill="none"/>
<path d="M50.66 153.34V147.81M49.36 147.81H51.96M49.36 153.34H51.96" stroke="#ff8a00" stroke-width="0.9" fill="none"/>
<path d="M55.75 152.15V146.62M54.45 146.62H57.05M54.45 152.15H57.05" stroke="#ff8a00" stroke-width="0.9" fill="none"/>
<path d="M60.84 151.36V145.83M59.54 145.83H62.14M59.54 151.36H62.14" stroke="#ff8a00" stroke-width="0.9" fill="none"/>
<path d="M65.93 150.18V144.65M64.63 144.65H67.23M64.63 150.18H67.23" stroke="#ff8a00" stroke-width="0.9" fill="none"/>
<path d="M71.02 149.39V143.86M69.72 143.86H72.32M69.72 149.39H72.32" stroke="#ff8a00" stroke-width="0.9" fill="none"/>
<path d="M76.11 148.6V143.07M74.81 143.07H77.41M74.81 148.6H77.41" stroke="#ff8a00" stroke-width="0.9" fill="none"/>
<path d="M81.2 148.2V142.67M79.9 142.67H82.5M79.9 148.2H82.5" stroke="#ff8a00" stroke-width="0.9" fill="none"/>
<path d="M86.29 148.2V142.67M84.99 142.67H87.59M84.99 148.2H87.59" stroke="#ff8a00" stroke-width="0.9" fill="none"/>
<path d="M91.38 148.2V142.67M90.08 142.67H92.68M90.08 148.2H92.68" stroke="#ff8a00" stroke-width="0.9" fill="none"/>
<path d="M96.47 147.81V142.28M95.17 142.28H97.77M95.17 147.81H97.77" stroke="#ff8a00" stroke-width="0.9" fill="none"/>
<path d="M101.56 147.41V141.88M100.26 141.88H102.86M100.26 147.41H102.86" stroke="#ff8a00" stroke-width="0.9" fill="none"/>
<path d="M106.65 147.41V141.88M105.35 141.88H107.95M105.35 147.41H107.95" stroke="#ff8a00" stroke-width="0.9" fill="none"/>
<path d="M111.74 146.62V141.09M110.44 141.09H113.04M110.44 146.62H113.04" stroke="#ff8a00" stroke-width="0.9" fill="none"/>
<path d="M116.83 145.44V139.91M115.53 139.91H118.13M115.53 145.44H118.13" stroke="#ff8a00" stroke-width="0.9" fill="none"/>
<path d="M121.92 144.65V139.12M120.62 139.12H123.22M120.62 144.65H123.22" stroke="#ff8a00" stroke-width="0.9" fill="none"/>
<path d="M127.01 144.65V139.12M125.71 139.12H128.31M125.71 144.65H128.31" stroke="#ff8a00" stroke-width="0.9" fill="none"/>
<path d="M132.1 144.65V139.12M130.8 139.12H133.4M130.8 144.65H133.4" stroke="#ff8a00" stroke-width="0.9" fill="none"/>
<path d="M137.19 144.65V139.12M135.89 139.12H138.49M135.89 144.65H138.49" stroke="#ff8a00" stroke-width="0.9" fill="none"/>
<path d="M35.39 146.62 L40.48 148.6 L45.57 150.18 L50.66 150.57 L55.75 149.39 L60.84 148.6 L65.93 147.41 L71.02 146.62 L76.11 145.83 L81.2 145.44 L86.29 145.44 L91.38 145.44 L96.47 145.04 L101.56 144.65 L106.65 144.65 L111.74 143.86 L116.83 142.67 L121.92 141.88 L127.01 141.88 L132.1 141.88 L137.19 141.88" stroke="#ff8a00" stroke-width="1.3" fill="none" stroke-linejoin="miter" stroke-miterlimit="3" stroke-dasharray="2.2 1.3"/>
<path d="M35.39 146.62V141.09M34.09 141.09H36.69M34.09 146.62H36.69" stroke="#ff8a00" stroke-width="0.9" fill="none"/>
<path d="M40.48 150.18V144.65M39.18 144.65H41.78M39.18 150.18H41.78" stroke="#ff8a00" stroke-width="0.9" fill="none"/>
<path d="M45.57 150.57V145.04M44.27 145.04H46.87M44.27 150.57H46.87" stroke="#ff8a00" stroke-width="0.9" fill="none"/>
<path d="M50.66 152.55V147.02M49.36 147.02H51.96M49.36 152.55H51.96" stroke="#ff8a00" stroke-width="0.9" fill="none"/>
<path d="M55.75 153.73V148.2M54.45 148.2H57.05M54.45 153.73H57.05" stroke="#ff8a00" stroke-width="0.9" fill="none"/>
<path d="M60.84 155.71V150.18M59.54 150.18H62.14M59.54 155.71H62.14" stroke="#ff8a00" stroke-width="0.9" fill="none"/>
<path d="M65.93 150.57V145.04M64.63 145.04H67.23M64.63 150.57H67.23" stroke="#ff8a00" stroke-width="0.9" fill="none"/>
<path d="M71.02 150.57V145.04M69.72 145.04H72.32M69.72 150.57H72.32" stroke="#ff8a00" stroke-width="0.9" fill="none"/>
<path d="M76.11 149.39V143.86M74.81 143.86H77.41M74.81 149.39H77.41" stroke="#ff8a00" stroke-width="0.9" fill="none"/>
<path d="M81.2 148.2V142.67M79.9 142.67H82.5M79.9 148.2H82.5" stroke="#ff8a00" stroke-width="0.9" fill="none"/>
<path d="M86.29 147.41V141.88M84.99 141.88H87.59M84.99 147.41H87.59" stroke="#ff8a00" stroke-width="0.9" fill="none"/>
<path d="M91.38 147.41V141.88M90.08 141.88H92.68M90.08 147.41H92.68" stroke="#ff8a00" stroke-width="0.9" fill="none"/>
<path d="M96.47 147.41V141.88M95.17 141.88H97.77M95.17 147.41H97.77" stroke="#ff8a00" stroke-width="0.9" fill="none"/>
<path d="M101.56 147.41V141.88M100.26 141.88H102.86M100.26 147.41H102.86" stroke="#ff8a00" stroke-width="0.9" fill="none"/>
<path d="M106.65 147.41V141.88M105.35 141.88H107.95M105.35 147.41H107.95" stroke="#ff8a00" stroke-width="0.9" fill="none"/>
<path d="M111.74 147.41V141.88M110.44 141.88H113.04M110.44 147.41H113.04" stroke="#ff8a00" stroke-width="0.9" fill="none"/>
<path d="M116.83 143.86V138.33M115.53 138.33H118.13M115.53 143.86H118.13" stroke="#ff8a00" stroke-width="0.9" fill="none"/>
<path d="M121.92 144.25V138.72M120.62 138.72H123.22M120.62 144.25H123.22" stroke="#ff8a00" stroke-width="0.9" fill="none"/>
<path d="M127.01 144.65V139.12M125.71 139.12H128.31M125.71 144.65H128.31" stroke="#ff8a00" stroke-width="0.9" fill="none"/>
<path d="M132.1 144.65V139.12M130.8 139.12H133.4M130.8 144.65H133.4" stroke="#ff8a00" stroke-width="0.9" fill="none"/>
<path d="M137.19 144.65V139.12M135.89 139.12H138.49M135.89 144.65H138.49" stroke="#ff8a00" stroke-width="0.9" fill="none"/>
<path d="M35.39 143.86 L40.48 147.41 L45.57 147.81 L50.66 149.78 L55.75 150.97 L60.84 152.94 L65.93 147.81 L71.02 147.81 L76.11 146.62 L81.2 145.44 L86.29 144.65 L91.38 144.65 L96.47 144.65 L101.56 144.65 L106.65 144.65 L111.74 144.65 L116.83 141.09 L121.92 141.49 L127.01 141.88 L132.1 141.88 L137.19 141.88 L142.28 132.01 L147.37 132.01" stroke="#ff8a00" stroke-width="1.3" fill="none" stroke-linejoin="miter" stroke-miterlimit="3"/>
<path d="M35.39 150.57V146.62M34.09 146.62H36.69M34.09 150.57H36.69" stroke="#f00" stroke-width="0.9" fill="none"/>
<path d="M40.48 149.39V145.44M39.18 145.44H41.78M39.18 149.39H41.78" stroke="#f00" stroke-width="0.9" fill="none"/>
<path d="M45.57 148.6V144.65M44.27 144.65H46.87M44.27 148.6H46.87" stroke="#f00" stroke-width="0.9" fill="none"/>
<path d="M50.66 148.6V144.65M49.36 144.65H51.96M49.36 148.6H51.96" stroke="#f00" stroke-width="0.9" fill="none"/>
<path d="M55.75 148.2V144.25M54.45 144.25H57.05M54.45 148.2H57.05" stroke="#f00" stroke-width="0.9" fill="none"/>
<path d="M60.84 147.41V143.46M59.54 143.46H62.14M59.54 147.41H62.14" stroke="#f00" stroke-width="0.9" fill="none"/>
<path d="M65.93 145.44V141.49M64.63 141.49H67.23M64.63 145.44H67.23" stroke="#f00" stroke-width="0.9" fill="none"/>
<path d="M71.02 143.07V139.12M69.72 139.12H72.32M69.72 143.07H72.32" stroke="#f00" stroke-width="0.9" fill="none"/>
<path d="M76.11 143.07V139.12M74.81 139.12H77.41M74.81 143.07H77.41" stroke="#f00" stroke-width="0.9" fill="none"/>
<path d="M35.39 148.6 L40.48 147.41 L45.57 146.62 L50.66 146.62 L55.75 146.23 L60.84 145.44 L65.93 143.46 L71.02 141.09 L76.11 141.09" stroke="#f00" stroke-width="1.3" fill="none" stroke-linejoin="miter" stroke-miterlimit="3" stroke-dasharray="2.2 1.3"/>
<path d="M35.39 149.39V145.44M34.09 145.44H36.69M34.09 149.39H36.69" stroke="#f00" stroke-width="0.9" fill="none"/>
<path d="M40.48 149.39V145.44M39.18 145.44H41.78M39.18 149.39H41.78" stroke="#f00" stroke-width="0.9" fill="none"/>
<path d="M45.57 149.39V145.44M44.27 145.44H46.87M44.27 149.39H46.87" stroke="#f00" stroke-width="0.9" fill="none"/>
<path d="M50.66 149.39V145.44M49.36 145.44H51.96M49.36 149.39H51.96" stroke="#f00" stroke-width="0.9" fill="none"/>
<path d="M55.75 149.78V145.83M54.45 145.83H57.05M54.45 149.78H57.05" stroke="#f00" stroke-width="0.9" fill="none"/>
<path d="M60.84 149.39V145.44M59.54 145.44H62.14M59.54 149.39H62.14" stroke="#f00" stroke-width="0.9" fill="none"/>
<path d="M65.93 145.04V141.09M64.63 141.09H67.23M64.63 145.04H67.23" stroke="#f00" stroke-width="0.9" fill="none"/>
<path d="M71.02 140.3V136.35M69.72 136.35H72.32M69.72 140.3H72.32" stroke="#f00" stroke-width="0.9" fill="none"/>
<path d="M35.39 147.41 L40.48 147.41 L45.57 147.41 L50.66 147.41 L55.75 147.81 L60.84 147.41 L65.93 143.07 L71.02 138.33 L76.11 135.96 L81.2 135.96" stroke="#f00" stroke-width="1.3" fill="none" stroke-linejoin="miter" stroke-miterlimit="3"/>
<line x1="107" y1="157.6" x2="115.9" y2="157.6" stroke="#f00" stroke-width="1.5"/>
<text x="119.7" y="159.65" font-size="5.65" style="fill:#222">Control</text>
<path d="M107.9 165.41H109.3M110.9 165.41H114.9" stroke="#f00" stroke-width="1.5" fill="none"/>
<circle cx="112.6" cy="165.41" r="1.05" fill="#f00"/>
<text x="119.7" y="167.46" font-size="5.65" style="fill:#222">BioXmark</text>
<line x1="107" y1="173.22" x2="115.9" y2="173.22" stroke="#ff8a00" stroke-width="1.5"/>
<text x="119.7" y="175.27" font-size="5.65" style="fill:#222">4 x 4 Gy</text>
<path d="M107.9 181.03H109.3M110.9 181.03H114.9" stroke="#ff8a00" stroke-width="1.5" fill="none"/>
<circle cx="112.6" cy="181.03" r="1.05" fill="#ff8a00"/>
<text x="119.7" y="183.08" font-size="5.65" style="fill:#222">4 x 4 Gy + BioXmark</text>
<line x1="107" y1="188.84" x2="115.9" y2="188.84" stroke="#1ee61e" stroke-width="1.5"/>
<text x="119.7" y="190.89" font-size="5.65" style="fill:#222">2 x 8 Gy</text>
<path d="M107.9 196.65H109.3M110.9 196.65H114.9" stroke="#1ee61e" stroke-width="1.5" fill="none"/>
<circle cx="112.6" cy="196.65" r="1.05" fill="#1ee61e"/>
<text x="119.7" y="198.7" font-size="5.65" style="fill:#222">2 x 8 Gy + BioXmark</text>
<line x1="107" y1="204.46" x2="115.9" y2="204.46" stroke="#0000ff" stroke-width="1.5"/>
<text x="119.7" y="206.51" font-size="5.65" style="fill:#222">16 Gy</text>
<path d="M107.9 212.27H109.3M110.9 212.27H114.9" stroke="#0000ff" stroke-width="1.5" fill="none"/>
<circle cx="112.6" cy="212.27" r="1.05" fill="#0000ff"/>
<text x="121.2" y="214.32" font-size="5.65" style="fill:#222">16Gy + BioXmark</text>
</svg>
</body></html>
